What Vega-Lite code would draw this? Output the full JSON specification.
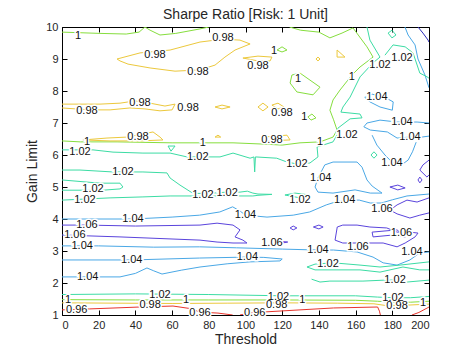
{
"$schema":"https://vega.github.io/schema/vega-lite/v6.json",
"autosize":{"type":"none"},
"width":367,"height":288,
"padding":{"left":62,"top":27,"right":45,"bottom":40},
"background":"white",
"config":{"view":{"stroke":"black","strokeWidth":1},"font":"Liberation Sans",
"axis":{"grid":false,"domain":false,"tickColor":"#000","tickSize":-5,"labelFontSize":11,"labelColor":"#262626","titleFontSize":14,"titleFontWeight":"normal","titleColor":"#262626","labelFont":"Liberation Sans","titleFont":"Liberation Sans"}},
"title":{"text":"Sharpe Ratio [Risk: 1 Unit]","fontSize":14,"fontWeight":"normal","color":"#262626","offset":-1,"font":"Liberation Sans"},
"datasets":{
"lines":[
{"c":"r1","l":"0.96","x":0,"y":1.16},{"c":"r1","l":"0.96","x":15,"y":1.19},{"c":"r1","l":"0.96","x":42.5,"y":1.25},{"c":"r1","l":"0.96","x":60.5,"y":1.28},{"c":"r1","l":"0.96","x":70,"y":1.2},{"c":"r1","l":"0.96","x":75.2,"y":1.09},{"c":"r1","l":"0.96","x":85,"y":1.06},{"c":"r1","l":"0.96","x":93,"y":1},
{"c":"r2","l":"0.96","x":97,"y":1},{"c":"r2","l":"0.96","x":101,"y":1.05},{"c":"r2","l":"0.96","x":111.7,"y":1.1},{"c":"r2","l":"0.96","x":129.7,"y":1.16},{"c":"r2","l":"0.96","x":148,"y":1.22},{"c":"r2","l":"0.96","x":172,"y":1.25},{"c":"r2","l":"0.96","x":173,"y":1.12},{"c":"r2","l":"0.96","x":173.5,"y":1},
{"c":"r3","l":"0.96","x":190.7,"y":1},{"c":"r3","l":"0.96","x":194.5,"y":1.08},{"c":"r3","l":"0.96","x":200,"y":1.25},
{"c":"y1","l":"0.98","x":0,"y":1.38},{"c":"y1","l":"0.98","x":30,"y":1.37},{"c":"y1","l":"0.98","x":60,"y":1.36},{"c":"y1","l":"0.98","x":90,"y":1.37},{"c":"y1","l":"0.98","x":120,"y":1.38},{"c":"y1","l":"0.98","x":150,"y":1.37},{"c":"y1","l":"0.98","x":170,"y":1.35},{"c":"y1","l":"0.98","x":176,"y":1.3},{"c":"y1","l":"0.98","x":185,"y":1.3},{"c":"y1","l":"0.98","x":200,"y":1.34},
{"c":"g1","l":"1","x":0,"y":1.48},{"c":"g1","l":"1","x":40,"y":1.47},{"c":"g1","l":"1","x":80,"y":1.47},{"c":"g1","l":"1","x":120,"y":1.47},{"c":"g1","l":"1","x":160,"y":1.46},{"c":"g1","l":"1","x":172,"y":1.43},{"c":"g1","l":"1","x":180,"y":1.4},{"c":"g1","l":"1","x":190,"y":1.4},{"c":"g1","l":"1","x":200,"y":1.43},
{"c":"c1","l":"1.02","x":0,"y":1.64},{"c":"c1","l":"1.02","x":40,"y":1.66},{"c":"c1","l":"1.02","x":80,"y":1.64},{"c":"c1","l":"1.02","x":120,"y":1.6},{"c":"c1","l":"1.02","x":160,"y":1.6},{"c":"c1","l":"1.02","x":172,"y":1.56},{"c":"c1","l":"1.02","x":180,"y":1.54},{"c":"c1","l":"1.02","x":190,"y":1.54},{"c":"c1","l":"1.02","x":200,"y":1.58},
{"c":"b1","l":"1.04","x":0,"y":2.19},{"c":"b1","l":"1.04","x":31.6,"y":2.19},{"c":"b1","l":"1.04","x":40,"y":2.3},{"c":"b1","l":"1.04","x":46.3,"y":2.47},{"c":"b1","l":"1.04","x":50,"y":2.38},{"c":"b1","l":"1.04","x":54.5,"y":2.28},{"c":"b1","l":"1.04","x":65,"y":2.4},{"c":"b1","l":"1.04","x":75.2,"y":2.5},{"c":"b1","l":"1.04","x":90,"y":2.6},{"c":"b1","l":"1.04","x":102.5,"y":2.66},{"c":"b1","l":"1.04","x":118.8,"y":2.69},{"c":"b1","l":"1.04","x":120,"y":2.75},{"c":"b1","l":"1.04","x":110,"y":2.8},{"c":"b1","l":"1.04","x":101,"y":2.81},{"c":"b1","l":"1.04","x":75,"y":2.78},{"c":"b1","l":"1.04","x":38,"y":2.72},{"c":"b1","l":"1.04","x":0,"y":2.72},
{"c":"b2","l":"1.04","x":0,"y":3.16},{"c":"b2","l":"1.04","x":20,"y":3.16},{"c":"b2","l":"1.04","x":50,"y":3.12},{"c":"b2","l":"1.04","x":75,"y":3.13},{"c":"b2","l":"1.04","x":95,"y":3.1},{"c":"b2","l":"1.04","x":120,"y":3.06},{"c":"b2","l":"1.04","x":139.5,"y":3.03},{"c":"b2","l":"1.04","x":148,"y":3.03},{"c":"b2","l":"1.04","x":160.8,"y":2.97},{"c":"b2","l":"1.04","x":169.5,"y":2.81},{"c":"b2","l":"1.04","x":175,"y":2.63},{"c":"b2","l":"1.04","x":182.6,"y":2.56},{"c":"b2","l":"1.04","x":189.6,"y":2.72},{"c":"b2","l":"1.04","x":195,"y":2.94},{"c":"b2","l":"1.04","x":200,"y":2.97},
{"c":"b3","l":"1.04","x":0,"y":4},{"c":"b3","l":"1.04","x":38.7,"y":4},{"c":"b3","l":"1.04","x":60,"y":4.06},{"c":"b3","l":"1.04","x":75,"y":4.12},{"c":"b3","l":"1.04","x":86,"y":4.22},{"c":"b3","l":"1.04","x":93,"y":4.38},{"c":"b3","l":"1.04","x":97,"y":4.25},{"c":"b3","l":"1.04","x":100,"y":4.12},{"c":"b3","l":"1.04","x":111.7,"y":4.06},{"c":"b3","l":"1.04","x":126,"y":4.12},{"c":"b3","l":"1.04","x":135,"y":4.22},{"c":"b3","l":"1.04","x":144,"y":4.44},{"c":"b3","l":"1.04","x":150,"y":4.55},{"c":"b3","l":"1.04","x":156,"y":4.59},{"c":"b3","l":"1.04","x":162,"y":4.59},{"c":"b3","l":"1.04","x":168,"y":4.5},{"c":"b3","l":"1.04","x":174,"y":4.5},{"c":"b3","l":"1.04","x":180,"y":4.6},{"c":"b3","l":"1.04","x":188,"y":4.72},{"c":"b3","l":"1.04","x":194,"y":4.75},{"c":"b3","l":"1.04","x":200,"y":4.78},
{"c":"b4","l":"1.04","x":139.5,"y":5.28},{"c":"b4","l":"1.04","x":143.2,"y":5.69},{"c":"b4","l":"1.04","x":147.7,"y":5.78},{"c":"b4","l":"1.04","x":160.8,"y":5.78},{"c":"b4","l":"1.04","x":163.5,"y":5.62},{"c":"b4","l":"1.04","x":166.2,"y":5.22},{"c":"b4","l":"1.04","x":169,"y":5.03},{"c":"b4","l":"1.04","x":174.4,"y":4.81},{"c":"b4","l":"1.04","x":168,"y":4.81},{"c":"b4","l":"1.04","x":159.7,"y":4.91},{"c":"b4","l":"1.04","x":147.7,"y":4.81},{"c":"b4","l":"1.04","x":139.5,"y":4.84},{"c":"b4","l":"1.04","x":137.9,"y":5},{"c":"b4","l":"1.04","x":139.5,"y":5.28},
{"c":"b5","l":"1.04","x":200,"y":7},{"c":"b5","l":"1.04","x":193.5,"y":7.03},{"c":"b5","l":"1.04","x":182.6,"y":7.03},{"c":"b5","l":"1.04","x":173.3,"y":7.09},{"c":"b5","l":"1.04","x":166.2,"y":7},{"c":"b5","l":"1.04","x":164.5,"y":6.88},{"c":"b5","l":"1.04","x":168,"y":6.78},{"c":"b5","l":"1.04","x":177.3,"y":6.72},{"c":"b5","l":"1.04","x":182.6,"y":6.53},{"c":"b5","l":"1.04","x":190,"y":6.56},{"c":"b5","l":"1.04","x":196,"y":6.56},{"c":"b5","l":"1.04","x":200,"y":6.59},
{"c":"b6","l":"1.04","x":169,"y":6.62},{"c":"b6","l":"1.04","x":171.6,"y":6.31},{"c":"b6","l":"1.04","x":176,"y":6},{"c":"b6","l":"1.04","x":179.8,"y":5.78},{"c":"b6","l":"1.04","x":184.2,"y":5.66},{"c":"b6","l":"1.04","x":188.6,"y":5.84},{"c":"b6","l":"1.04","x":191,"y":6.1},{"c":"b6","l":"1.04","x":193,"y":6.4},
{"c":"b7","l":"1.04","x":165,"y":7.8},{"c":"b7","l":"1.04","x":169,"y":7.9},{"c":"b7","l":"1.04","x":176,"y":7.8},{"c":"b7","l":"1.04","x":180.5,"y":7.66},{"c":"b7","l":"1.04","x":180,"y":7.4},{"c":"b7","l":"1.04","x":173.3,"y":7.5},{"c":"b7","l":"1.04","x":167.8,"y":7.66},{"c":"b7","l":"1.04","x":165,"y":7.8},
{"c":"b8","l":"1.04","x":186.9,"y":10},{"c":"b8","l":"1.04","x":188.6,"y":9.75},{"c":"b8","l":"1.04","x":192.4,"y":9.44},{"c":"b8","l":"1.04","x":194,"y":9},{"c":"b8","l":"1.04","x":197.8,"y":8.5},{"c":"b8","l":"1.04","x":200,"y":8.1},
{"c":"d1","l":"1.08","x":194,"y":10},{"c":"d1","l":"1.08","x":196.7,"y":9.81},{"c":"d1","l":"1.08","x":199.5,"y":9.59},{"c":"d1","l":"1.08","x":200,"y":9.53},
{"c":"p1","l":"1.06","x":0,"y":3.81},{"c":"p1","l":"1.06","x":13.6,"y":3.81},{"c":"p1","l":"1.06","x":40,"y":3.78},{"c":"p1","l":"1.06","x":75.2,"y":3.81},{"c":"p1","l":"1.06","x":84.5,"y":3.87},{"c":"p1","l":"1.06","x":93.2,"y":3.81},{"c":"p1","l":"1.06","x":97,"y":3.66},{"c":"p1","l":"1.06","x":94.3,"y":3.44},{"c":"p1","l":"1.06","x":98.6,"y":3.34},{"c":"p1","l":"1.06","x":100.8,"y":3.25},{"c":"p1","l":"1.06","x":93.2,"y":3.25},{"c":"p1","l":"1.06","x":84.5,"y":3.28},{"c":"p1","l":"1.06","x":75.2,"y":3.34},{"c":"p1","l":"1.06","x":31.6,"y":3.44},{"c":"p1","l":"1.06","x":0,"y":3.5},
{"c":"p2","l":"1.06","x":117,"y":3.31},{"c":"p2","l":"1.06","x":123,"y":3.28},{"c":"p2","l":"1.06","x":117,"y":3.22},
{"c":"p3","l":"1.06","x":124.3,"y":3.72},{"c":"p3","l":"1.06","x":126,"y":3.78},{"c":"p3","l":"1.06","x":128,"y":3.72},{"c":"p3","l":"1.06","x":126,"y":3.66},{"c":"p3","l":"1.06","x":124.3,"y":3.72},
{"c":"p4","l":"1.06","x":137,"y":3.75},{"c":"p4","l":"1.06","x":140,"y":3.81},{"c":"p4","l":"1.06","x":142.3,"y":3.75},{"c":"p4","l":"1.06","x":140,"y":3.69},{"c":"p4","l":"1.06","x":137,"y":3.75},
{"c":"p5","l":"1.06","x":150,"y":3.75},{"c":"p5","l":"1.06","x":153,"y":3.81},{"c":"p5","l":"1.06","x":160.8,"y":3.81},{"c":"p5","l":"1.06","x":167.8,"y":3.75},{"c":"p5","l":"1.06","x":177,"y":3.72},{"c":"p5","l":"1.06","x":182.6,"y":3.59},{"c":"p5","l":"1.06","x":189.6,"y":3.59},{"c":"p5","l":"1.06","x":194,"y":3.56},{"c":"p5","l":"1.06","x":192.4,"y":3.44},{"c":"p5","l":"1.06","x":187,"y":3.25},{"c":"p5","l":"1.06","x":182.6,"y":3.13},{"c":"p5","l":"1.06","x":175,"y":3.25},{"c":"p5","l":"1.06","x":167.8,"y":3.25},{"c":"p5","l":"1.06","x":153,"y":3.25},{"c":"p5","l":"1.06","x":148.8,"y":3.34},{"c":"p5","l":"1.06","x":150,"y":3.75},
{"c":"p6","l":"1.06","x":169,"y":3.59},{"c":"p6","l":"1.06","x":182.6,"y":3.66},{"c":"p6","l":"1.06","x":187,"y":3.44},{"c":"p6","l":"1.06","x":180.4,"y":3.5},{"c":"p6","l":"1.06","x":169.5,"y":3.44},{"c":"p6","l":"1.06","x":169,"y":3.59},
{"c":"p7","l":"1.06","x":200,"y":4.66},{"c":"p7","l":"1.06","x":193.5,"y":4.53},{"c":"p7","l":"1.06","x":188,"y":4.59},{"c":"p7","l":"1.06","x":182.6,"y":4.44},{"c":"p7","l":"1.06","x":178.8,"y":4.28},{"c":"p7","l":"1.06","x":182.6,"y":4.16},{"c":"p7","l":"1.06","x":189.6,"y":4.03},{"c":"p7","l":"1.06","x":195,"y":4.12},{"c":"p7","l":"1.06","x":200,"y":4.19},
{"c":"p8","l":"1.06","x":200,"y":5.84},{"c":"p8","l":"1.06","x":196.7,"y":5.69},{"c":"p8","l":"1.06","x":195,"y":5.53},{"c":"p8","l":"1.06","x":198.9,"y":5.31},{"c":"p8","l":"1.06","x":200,"y":5.38},
{"c":"p9","l":"1.06","x":194,"y":5.22},{"c":"p9","l":"1.06","x":195,"y":5.31},{"c":"p9","l":"1.06","x":196.2,"y":5.22},{"c":"p9","l":"1.06","x":195,"y":5.13},{"c":"p9","l":"1.06","x":194,"y":5.22},
{"c":"p10","l":"1.06","x":178.7,"y":5},{"c":"p10","l":"1.06","x":183,"y":5.06},{"c":"p10","l":"1.06","x":187,"y":4.97},{"c":"p10","l":"1.06","x":183,"y":4.91},{"c":"p10","l":"1.06","x":178.7,"y":5},
{"c":"c2","l":"1.02","x":0,"y":6.16},{"c":"c2","l":"1.02","x":16.9,"y":6.16},{"c":"c2","l":"1.02","x":27.8,"y":6.09},{"c":"c2","l":"1.02","x":44.1,"y":6.06},{"c":"c2","l":"1.02","x":58.9,"y":6.06},{"c":"c2","l":"1.02","x":68.1,"y":5.94},{"c":"c2","l":"1.02","x":75.2,"y":5.94},{"c":"c2","l":"1.02","x":86.1,"y":5.94},{"c":"c2","l":"1.02","x":93.2,"y":6.06},{"c":"c2","l":"1.02","x":102.5,"y":5.9},{"c":"c2","l":"1.02","x":104.6,"y":5.94},{"c":"c2","l":"1.02","x":105,"y":5.47},{"c":"c2","l":"1.02","x":105.4,"y":5.94},{"c":"c2","l":"1.02","x":117,"y":5.9},{"c":"c2","l":"1.02","x":122.6,"y":5.78},{"c":"c2","l":"1.02","x":128,"y":5.72},{"c":"c2","l":"1.02","x":135.1,"y":5.75},{"c":"c2","l":"1.02","x":139.5,"y":5.94},{"c":"c2","l":"1.02","x":139,"y":6.25},{"c":"c2","l":"1.02","x":147.7,"y":6.41},{"c":"c2","l":"1.02","x":149.9,"y":6.63},{"c":"c2","l":"1.02","x":150.4,"y":6.84},{"c":"c2","l":"1.02","x":157,"y":7.13},{"c":"c2","l":"1.02","x":163.5,"y":7.16},{"c":"c2","l":"1.02","x":162.4,"y":7.28},{"c":"c2","l":"1.02","x":152,"y":7.34},{"c":"c2","l":"1.02","x":153.1,"y":7.5},{"c":"c2","l":"1.02","x":157,"y":7.81},{"c":"c2","l":"1.02","x":162.4,"y":8.44},{"c":"c2","l":"1.02","x":169.5,"y":8.88},{"c":"c2","l":"1.02","x":173.3,"y":9.06},{"c":"c2","l":"1.02","x":167.8,"y":9.59},{"c":"c2","l":"1.02","x":166.2,"y":10},
{"c":"c3","l":"1.02","x":0,"y":5.53},{"c":"c3","l":"1.02","x":9.8,"y":5.53},{"c":"c3","l":"1.02","x":27.8,"y":5.47},{"c":"c3","l":"1.02","x":44.1,"y":5.47},{"c":"c3","l":"1.02","x":57.2,"y":5.44},{"c":"c3","l":"1.02","x":58.9,"y":5.28},{"c":"c3","l":"1.02","x":64.3,"y":5.06},{"c":"c3","l":"1.02","x":71.4,"y":4.8},{"c":"c3","l":"1.02","x":80,"y":4.8},{"c":"c3","l":"1.02","x":90,"y":4.84},{"c":"c3","l":"1.02","x":97,"y":4.84},{"c":"c3","l":"1.02","x":101,"y":4.87},{"c":"c3","l":"1.02","x":104,"y":4.81},{"c":"c3","l":"1.02","x":106.8,"y":4.78},{"c":"c3","l":"1.02","x":114.4,"y":4.77},{"c":"c3","l":"1.02","x":106.8,"y":4.74},{"c":"c3","l":"1.02","x":104,"y":4.72},{"c":"c3","l":"1.02","x":90,"y":4.72},{"c":"c3","l":"1.02","x":75,"y":4.72},{"c":"c3","l":"1.02","x":58.9,"y":4.72},{"c":"c3","l":"1.02","x":44.1,"y":4.69},{"c":"c3","l":"1.02","x":26.2,"y":4.66},{"c":"c3","l":"1.02","x":0,"y":4.59},
{"c":"c4","l":"1.02","x":0,"y":5.22},{"c":"c4","l":"1.02","x":20.7,"y":5.12},{"c":"c4","l":"1.02","x":31.6,"y":5.12},{"c":"c4","l":"1.02","x":33.2,"y":5},{"c":"c4","l":"1.02","x":31.6,"y":4.94},{"c":"c4","l":"1.02","x":22.3,"y":4.9},{"c":"c4","l":"1.02","x":0,"y":4.9},
{"c":"c5","l":"1.02","x":121.5,"y":4.75},{"c":"c5","l":"1.02","x":127,"y":4.81},{"c":"c5","l":"1.02","x":135,"y":4.75},{"c":"c5","l":"1.02","x":129.7,"y":4.66},{"c":"c5","l":"1.02","x":121.5,"y":4.75},
{"c":"c6","l":"1.02","x":57.8,"y":6.28},{"c":"c6","l":"1.02","x":61.6,"y":6.28},{"c":"c6","l":"1.02","x":59.4,"y":6.12},{"c":"c6","l":"1.02","x":57.8,"y":6.28},
{"c":"c7","l":"1.02","x":168.4,"y":6},{"c":"c7","l":"1.02","x":170,"y":6.1},{"c":"c7","l":"1.02","x":171.7,"y":6},{"c":"c7","l":"1.02","x":170,"y":5.9},{"c":"c7","l":"1.02","x":168.4,"y":6},
{"c":"c8","l":"1.02","x":200,"y":2.66},{"c":"c8","l":"1.02","x":184.2,"y":2.56},{"c":"c8","l":"1.02","x":173.3,"y":2.5},{"c":"c8","l":"1.02","x":162.4,"y":2.56},{"c":"c8","l":"1.02","x":150,"y":2.62},{"c":"c8","l":"1.02","x":145,"y":2.62},{"c":"c8","l":"1.02","x":137.9,"y":2.59},{"c":"c8","l":"1.02","x":133.5,"y":2.5},{"c":"c8","l":"1.02","x":137.9,"y":2.41},{"c":"c8","l":"1.02","x":151.5,"y":2.41},{"c":"c8","l":"1.02","x":162.4,"y":2.41},{"c":"c8","l":"1.02","x":173.3,"y":2.34},{"c":"c8","l":"1.02","x":185.8,"y":2.5},{"c":"c8","l":"1.02","x":195,"y":2.41},{"c":"c8","l":"1.02","x":200,"y":2.41},
{"c":"c9","l":"1.02","x":136,"y":2.12},{"c":"c9","l":"1.02","x":140.6,"y":2.03},{"c":"c9","l":"1.02","x":146,"y":2.06},{"c":"c9","l":"1.02","x":164,"y":2.06},{"c":"c9","l":"1.02","x":176,"y":2.09},{"c":"c9","l":"1.02","x":181.5,"y":2.09},{"c":"c9","l":"1.02","x":188,"y":2.03},{"c":"c9","l":"1.02","x":200,"y":2.09},
{"c":"c10","l":"1.02","x":177.7,"y":9.81},{"c":"c10","l":"1.02","x":179.8,"y":9.9},{"c":"c10","l":"1.02","x":182,"y":9.75},{"c":"c10","l":"1.02","x":179.8,"y":9.66},{"c":"c10","l":"1.02","x":177.7,"y":9.81},
{"c":"c11","l":"1.02","x":176,"y":9.12},{"c":"c11","l":"1.02","x":180.4,"y":9.44},{"c":"c11","l":"1.02","x":187,"y":9.38},{"c":"c11","l":"1.02","x":191.3,"y":9.19},{"c":"c11","l":"1.02","x":195,"y":8.56},{"c":"c11","l":"1.02","x":199,"y":8.44},{"c":"c11","l":"1.02","x":200,"y":8.4},
{"c":"g2","l":"1","x":0,"y":6.44},{"c":"g2","l":"1","x":10,"y":6.41},{"c":"g2","l":"1","x":30,"y":6.41},{"c":"g2","l":"1","x":60,"y":6.38},{"c":"g2","l":"1","x":75.2,"y":6.38},{"c":"g2","l":"1","x":93.2,"y":6.38},{"c":"g2","l":"1","x":110,"y":6.34},{"c":"g2","l":"1","x":120,"y":6.31},{"c":"g2","l":"1","x":129.7,"y":6.38},{"c":"g2","l":"1","x":140.6,"y":6.41},{"c":"g2","l":"1","x":147.7,"y":6.56},{"c":"g2","l":"1","x":149.9,"y":6.78},{"c":"g2","l":"1","x":148,"y":7.1},{"c":"g2","l":"1","x":146,"y":7.4},{"c":"g2","l":"1","x":147.7,"y":7.72},{"c":"g2","l":"1","x":151.5,"y":8.03},{"c":"g2","l":"1","x":158,"y":8.5},{"c":"g2","l":"1","x":162.4,"y":8.75},{"c":"g2","l":"1","x":169.5,"y":9.06},{"c":"g2","l":"1","x":166.2,"y":9.38},{"c":"g2","l":"1","x":158.6,"y":9.97},{"c":"g2","l":"1","x":152.6,"y":9.81},{"c":"g2","l":"1","x":146,"y":9.66},{"c":"g2","l":"1","x":140,"y":9.84},{"c":"g2","l":"1","x":130,"y":9.9},{"c":"g2","l":"1","x":124,"y":10},
{"c":"g3","l":"1","x":0,"y":9.84},{"c":"g3","l":"1","x":20.7,"y":9.8},{"c":"g3","l":"1","x":35,"y":9.78},{"c":"g3","l":"1","x":42,"y":9.84},{"c":"g3","l":"1","x":45.2,"y":10},{"c":"g3","l":"1","x":48,"y":9.9},{"c":"g3","l":"1","x":53.4,"y":9.75},{"c":"g3","l":"1","x":62,"y":9.8},{"c":"g3","l":"1","x":75.2,"y":9.94},{"c":"g3","l":"1","x":80,"y":10},
{"c":"g4","l":"1","x":117.2,"y":9.28},{"c":"g4","l":"1","x":119.9,"y":9.38},{"c":"g4","l":"1","x":122.6,"y":9.28},{"c":"g4","l":"1","x":119.9,"y":9.22},{"c":"g4","l":"1","x":117.2,"y":9.28},
{"c":"g5","l":"1","x":125.3,"y":8.5},{"c":"g5","l":"1","x":129.7,"y":8.56},{"c":"g5","l":"1","x":140.6,"y":8.12},{"c":"g5","l":"1","x":136.8,"y":7.88},{"c":"g5","l":"1","x":128,"y":7.97},{"c":"g5","l":"1","x":124.3,"y":8.25},{"c":"g5","l":"1","x":125.3,"y":8.5},
{"c":"g6","l":"1","x":134,"y":7.19},{"c":"g6","l":"1","x":136.2,"y":7.28},{"c":"g6","l":"1","x":138.4,"y":7.16},{"c":"g6","l":"1","x":135.7,"y":7.09},{"c":"g6","l":"1","x":134,"y":7.19},
{"c":"y2","l":"0.98","x":30,"y":9},{"c":"y2","l":"0.98","x":42.5,"y":9.19},{"c":"y2","l":"0.98","x":58.9,"y":9.28},{"c":"y2","l":"0.98","x":75.2,"y":9.53},{"c":"y2","l":"0.98","x":87.7,"y":9.62},{"c":"y2","l":"0.98","x":97,"y":9.59},{"c":"y2","l":"0.98","x":102.5,"y":9.47},{"c":"y2","l":"0.98","x":94.3,"y":9.28},{"c":"y2","l":"0.98","x":88.8,"y":9.06},{"c":"y2","l":"0.98","x":83.4,"y":8.81},{"c":"y2","l":"0.98","x":75.2,"y":8.66},{"c":"y2","l":"0.98","x":61.6,"y":8.62},{"c":"y2","l":"0.98","x":48,"y":8.72},{"c":"y2","l":"0.98","x":36,"y":8.84},{"c":"y2","l":"0.98","x":31.6,"y":8.94},{"c":"y2","l":"0.98","x":30,"y":9},
{"c":"y3","l":"0.98","x":98.6,"y":9.03},{"c":"y3","l":"0.98","x":106.8,"y":9.09},{"c":"y3","l":"0.98","x":114.4,"y":9.06},{"c":"y3","l":"0.98","x":113.4,"y":8.94},{"c":"y3","l":"0.98","x":106.8,"y":8.94},{"c":"y3","l":"0.98","x":98.6,"y":9.03},
{"c":"y4","l":"0.98","x":138.4,"y":9},{"c":"y4","l":"0.98","x":139.5,"y":9.06},{"c":"y4","l":"0.98","x":140.6,"y":9},{"c":"y4","l":"0.98","x":139.5,"y":8.94},{"c":"y4","l":"0.98","x":138.4,"y":9},
{"c":"y5","l":"0.98","x":149.9,"y":9.28},{"c":"y5","l":"0.98","x":154.2,"y":9.06},{"c":"y5","l":"0.98","x":149.9,"y":9.06},{"c":"y5","l":"0.98","x":149.9,"y":9.28},
{"c":"y6","l":"0.98","x":0,"y":7.59},{"c":"y6","l":"0.98","x":20.7,"y":7.59},{"c":"y6","l":"0.98","x":31.6,"y":7.62},{"c":"y6","l":"0.98","x":39.8,"y":7.69},{"c":"y6","l":"0.98","x":48,"y":7.62},{"c":"y6","l":"0.98","x":56.1,"y":7.53},{"c":"y6","l":"0.98","x":61.6,"y":7.59},{"c":"y6","l":"0.98","x":60,"y":7.41},{"c":"y6","l":"0.98","x":53.4,"y":7.38},{"c":"y6","l":"0.98","x":45.2,"y":7.44},{"c":"y6","l":"0.98","x":37,"y":7.47},{"c":"y6","l":"0.98","x":26.2,"y":7.41},{"c":"y6","l":"0.98","x":15.3,"y":7.41},{"c":"y6","l":"0.98","x":0,"y":7.47},
{"c":"y7","l":"0.98","x":83.4,"y":7.5},{"c":"y7","l":"0.98","x":87.2,"y":7.56},{"c":"y7","l":"0.98","x":91.6,"y":7.5},{"c":"y7","l":"0.98","x":87.2,"y":7.44},{"c":"y7","l":"0.98","x":83.4,"y":7.5},
{"c":"y8","l":"0.98","x":106.8,"y":7.5},{"c":"y8","l":"0.98","x":109.5,"y":7.62},{"c":"y8","l":"0.98","x":112.3,"y":7.5},{"c":"y8","l":"0.98","x":109.5,"y":7.38},{"c":"y8","l":"0.98","x":106.8,"y":7.5},
{"c":"y9","l":"0.98","x":114.4,"y":7.56},{"c":"y9","l":"0.98","x":117.7,"y":7.62},{"c":"y9","l":"0.98","x":121,"y":7.5},{"c":"y9","l":"0.98","x":117.7,"y":7.44},{"c":"y9","l":"0.98","x":114.4,"y":7.56},
{"c":"y10","l":"0.98","x":11.4,"y":6.47},{"c":"y10","l":"0.98","x":24.5,"y":6.53},{"c":"y10","l":"0.98","x":35.4,"y":6.56},{"c":"y10","l":"0.98","x":49.6,"y":6.72},{"c":"y10","l":"0.98","x":53.4,"y":6.56},{"c":"y10","l":"0.98","x":55,"y":6.47},{"c":"y10","l":"0.98","x":42.5,"y":6.44},{"c":"y10","l":"0.98","x":26.2,"y":6.44},{"c":"y10","l":"0.98","x":11.4,"y":6.47},
{"c":"y11","l":"0.98","x":83.4,"y":6.56},{"c":"y11","l":"0.98","x":85,"y":6.62},{"c":"y11","l":"0.98","x":86.5,"y":6.56},{"c":"y11","l":"0.98","x":83.4,"y":6.56},
{"c":"y12","l":"0.98","x":109.5,"y":6.56},{"c":"y12","l":"0.98","x":122.6,"y":6.62},{"c":"y12","l":"0.98","x":124.3,"y":6.47},{"c":"y12","l":"0.98","x":109.5,"y":6.44},{"c":"y12","l":"0.98","x":109.5,"y":6.56}
],
"labels":[
{"t":"1","x":8.7,"y":9.72},{"t":"0.98","x":50.7,"y":9.13},{"t":"0.98","x":87.7,"y":9.66},{"t":"0.98","x":74.1,"y":8.6},{"t":"0.98","x":106.8,"y":8.78},{"t":"1","x":115.5,"y":9.25},{"t":"1","x":128.6,"y":8.38},{"t":"1","x":132,"y":7.19},{"t":"1","x":158,"y":8.44},{"t":"1.02","x":173.3,"y":8.81},{"t":"1.02","x":185.3,"y":9.03},{"t":"1.04","x":171.6,"y":7.8},{"t":"1.04","x":185.3,"y":7.03},{"t":"1.04","x":189.6,"y":6.56},
{"t":"0.98","x":13.6,"y":7.38},{"t":"0.98","x":42.5,"y":7.62},{"t":"0.98","x":68.7,"y":7.47},{"t":"0.98","x":119.9,"y":7.31},{"t":"0.98","x":41.4,"y":6.56},{"t":"0.98","x":114.4,"y":6.47},
{"t":"1","x":13.6,"y":6.4},{"t":"1","x":76.8,"y":6.38},{"t":"1","x":140.6,"y":6.41},{"t":"1.02","x":155.3,"y":6.63},{"t":"1.02","x":9.8,"y":6.1},{"t":"1.02","x":74,"y":5.94},{"t":"1.02","x":128,"y":5.72},{"t":"1.04","x":179.8,"y":5.75},{"t":"1.04","x":141,"y":5.28},
{"t":"1.02","x":33.2,"y":5.47},{"t":"1.02","x":16.9,"y":4.94},{"t":"1.02","x":12.5,"y":4.59},{"t":"1.02","x":76.8,"y":4.75},{"t":"1.02","x":90,"y":4.81},{"t":"1.02","x":129.7,"y":4.59},
{"t":"1.04","x":38.7,"y":4},{"t":"1.04","x":100,"y":4.12},{"t":"1.04","x":154,"y":4.59},{"t":"1.06","x":174.4,"y":4.31},{"t":"1.06","x":13.6,"y":3.81},{"t":"1.06","x":7,"y":3.5},{"t":"1.06","x":114.4,"y":3.25},{"t":"1.06","x":185,"y":3.56},{"t":"1.06","x":161.3,"y":3.13},
{"t":"1.04","x":11,"y":3.16},{"t":"1.04","x":139.5,"y":3.03},{"t":"1.04","x":190.7,"y":2.97},{"t":"1.04","x":38,"y":2.72},{"t":"1.04","x":101,"y":2.81},{"t":"1.04","x":14,"y":2.19},{"t":"1.02","x":145,"y":2.6},{"t":"1.02","x":181.5,"y":2.09},
{"t":"1.02","x":53.4,"y":1.63},{"t":"1.02","x":118,"y":1.56},{"t":"1.02","x":180.4,"y":1.53},{"t":"1","x":3.3,"y":1.47},{"t":"1","x":67.6,"y":1.47},{"t":"1","x":131,"y":1.47},{"t":"1","x":196.7,"y":1.38},{"t":"0.98","x":48,"y":1.31},{"t":"0.98","x":117,"y":1.31},{"t":"0.98","x":182.6,"y":1.28},{"t":"0.96","x":8,"y":1.16},{"t":"0.96","x":75.2,"y":1.06},{"t":"0.96","x":105,"y":1.06}
]},
"resolve":{"axis":{"x":"independent","y":"independent"}},
"layer":[
{"data":{"name":"lines"},"mark":{"type":"line","strokeWidth":1,"clip":true},
"encoding":{
"x":{"field":"x","type":"quantitative","scale":{"domain":[0,200],"nice":false,"zero":false},"axis":{"orient":"bottom","values":[0,20,40,60,80,100,120,140,160,180,200],"title":"Threshold","labelPadding":9,"titlePadding":2}},
"y":{"field":"y","type":"quantitative","scale":{"domain":[1,10],"nice":false,"zero":false},"axis":{"orient":"left","values":[1,2,3,4,5,6,7,8,9,10],"title":"Gain Limit","labelPadding":9,"titlePadding":6}},
"detail":{"field":"c"},
"order":{"value":null},
"color":{"field":"l","type":"nominal","legend":null,"scale":{"domain":["0.96","0.98","1","1.02","1.04","1.06","1.08"],"range":["#e8342c","#ecc83c","#86de3e","#3cdca4","#4aa8e6","#5a44dc","#2a2ab8"]}}}},
{"data":{"name":"labels"},"mark":{"type":"text","fontSize":11,"stroke":"white","strokeWidth":3,"fill":"white","font":"Liberation Sans"},
"encoding":{"x":{"field":"x","type":"quantitative","axis":null},"y":{"field":"y","type":"quantitative","axis":null},"text":{"field":"t"}}},
{"data":{"name":"labels"},"mark":{"type":"text","fontSize":11,"fill":"#111","font":"Liberation Sans"},
"encoding":{
"x":{"field":"x","type":"quantitative","axis":{"orient":"top","values":[0,20,40,60,80,100,120,140,160,180,200],"labels":false,"title":null}},
"y":{"field":"y","type":"quantitative","axis":{"orient":"right","values":[1,2,3,4,5,6,7,8,9,10],"labels":false,"title":null}},
"text":{"field":"t"}}}
]
}
